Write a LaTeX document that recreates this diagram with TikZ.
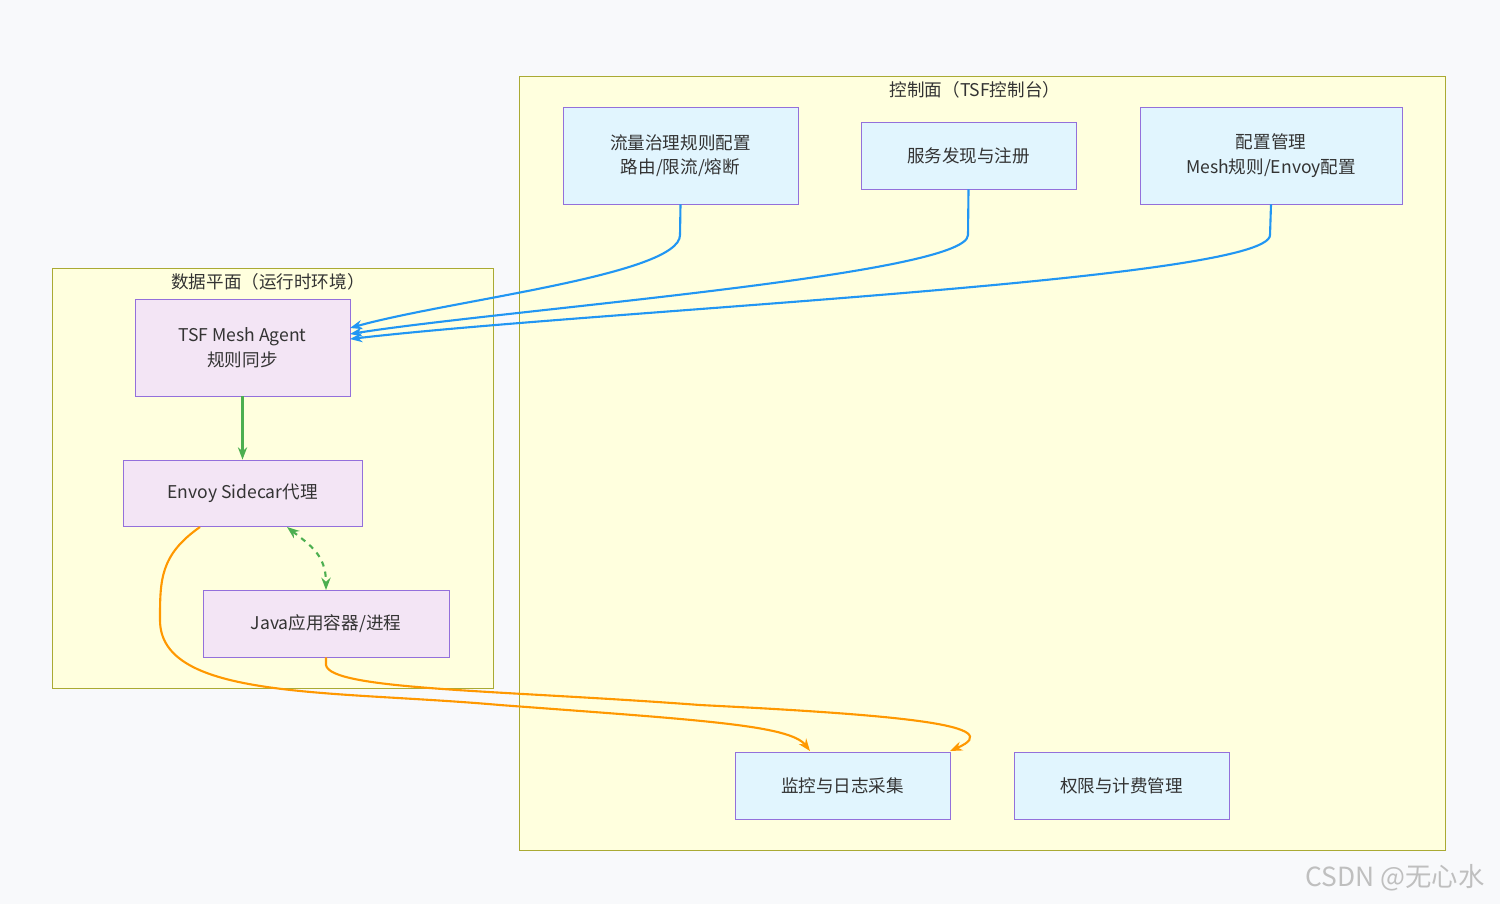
\documentclass[tikz,border=0pt]{standalone}
\usepackage{fontspec}
\setmainfont{Noto Sans CJK SC}
\usetikzlibrary{arrows.meta}
\definecolor{bg}{HTML}{F8F9FB}
\definecolor{grp}{HTML}{FFFFDE}
\definecolor{grpb}{HTML}{AAAA33}
\definecolor{nb}{HTML}{E1F5FE}
\definecolor{np}{HTML}{F3E5F5}
\definecolor{nbd}{HTML}{9370DB}
\definecolor{eb}{HTML}{2196F3}
\definecolor{eg}{HTML}{4CAF50}
\definecolor{eo}{HTML}{FF9800}
\begin{document}
\begin{tikzpicture}[x=0.02cm,y=-0.02cm,
  font=\fontsize{10}{14}\selectfont, text=black!80,
  grpbox/.style={draw=grpb,fill=grp,line width=0.5pt},
  nbox/.style={draw=nbd,fill=nb,line width=0.5pt,align=center,inner sep=0pt},
  pbox/.style={draw=nbd,fill=np,line width=0.5pt,align=center,inner sep=0pt},
  be/.style={draw=eb,line width=1.2pt,-{Stealth[length=7pt]}},
  ge/.style={draw=eg,line width=1.2pt,-{Stealth[length=7pt]}},
  oe/.style={draw=eo,line width=1.2pt,-{Stealth[length=7pt]}}]
\fill[bg] (0,0) rectangle (1500,904);
\useasboundingbox (0,0) rectangle (1500,904);
\draw[grpbox] (519,76) rectangle (1445,850);
\node (ct) at (975,90) {控制面（TSF控制台）};
\draw[grpbox] (52,268) rectangle (493,688);
\node (dt) at (268,282) {数据平面（运行时环境）};
\node[nbox,minimum width=235\pgflinewidth*0+4.7cm,minimum height=1.94cm] (r) at (680.5,155.5) {流量治理规则配置\\路由/限流/熔断};
\node[nbox,minimum width=4.3cm,minimum height=1.34cm] (s) at (968.5,155.5) {服务发现与注册};
\node[nbox,minimum width=5.24cm,minimum height=1.94cm] (c) at (1271,155.5) {配置管理\\Mesh规则/Envoy配置};
\node[pbox,minimum width=4.3cm,minimum height=1.94cm] (a) at (242.5,347.5) {TSF Mesh Agent\\规则同步};
\node[pbox,minimum width=4.78cm,minimum height=1.32cm] (e) at (242.5,493) {Envoy Sidecar代理};
\node[pbox,minimum width=4.92cm,minimum height=1.34cm] (j) at (326,623.5) {Java应用容器/进程};
\node[nbox,minimum width=4.3cm,minimum height=1.34cm] (m) at (842.5,785.5) {监控与日志采集};
\node[nbox,minimum width=4.3cm,minimum height=1.34cm] (q) at (1121.5,785.5) {权限与计费管理};
\draw[be] (r.south) -- (680,235) .. controls (680,275) and (450,300) .. (350,328);
\draw[be] (s.south) -- (968,235) .. controls (968,275) and (500,310) .. (350,334);
\draw[be] (c.south) -- (1270,235) .. controls (1270,280) and (600,310) .. (350,339);
\draw[ge] (a.south) -- (e.north);
\draw[eg,line width=1.2pt,dashed,{Stealth[length=7pt]}-{Stealth[length=7pt]}] (287,527) .. controls (310,545) and (326,555) .. (326,590);
\draw[oe] (200,527) .. controls (160,555) and (160,580) .. (160,620) .. controls (160,700) and (330,690) .. (500,705) .. controls (700,720) and (790,725) .. (810,751);
\draw[oe] (j.south) -- (326,665) .. controls (330,690) and (500,690) .. (700,705) .. controls (900,715) and (1010,725) .. (950,751);
\node[text=black!25,font=\fontsize{15}{18}\selectfont] (w) at (1395,878) {CSDN @无心水};
\end{tikzpicture}
\end{document}
